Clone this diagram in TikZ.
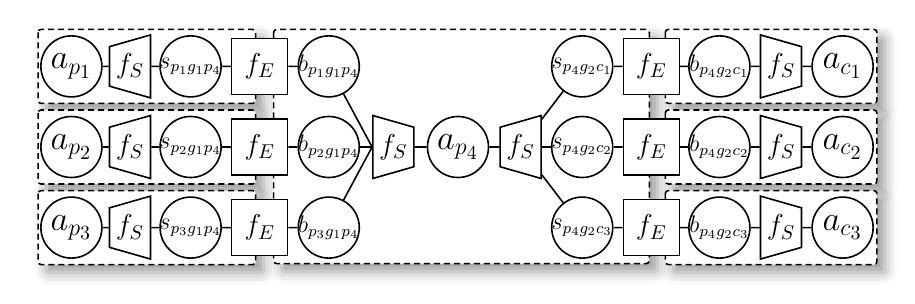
\documentclass[tikz,border=0pt]{standalone}
\usepackage{amsmath}
\usetikzlibrary{positioning, calc, shapes.geometric, shadows.blur, backgrounds}

\begin{document}
\begin{tikzpicture}[
    node distance=5.2pt,
    link/.style={thick},
    act/.style={draw, thick, circle, fill=white, minimum size=30.5pt, inner sep=0pt, font=\LARGE,
        execute at begin node={\hbox to 0pt\bgroup\hss}, execute at end node={\hss\egroup}},
    sig/.style={act, font=\large},
    fs/.style={draw, thick, fill=white, trapezium, trapezium left angle=75, trapezium right angle=75,
        trapezium stretches=true, minimum width=31.5pt, minimum height=20.5pt, inner sep=0pt, font=\Large},
    fsin/.style={fs, shape border rotate=90},
    fsout/.style={fs, shape border rotate=270},
    fe/.style={draw, thick, fill=white, minimum size=28pt, inner sep=0pt, font=\Large},
    group/.style={draw, thick, dash pattern=on 3pt off 2pt, fill=white, rounded corners=1.5pt,
        blur shadow={shadow xshift=4pt, shadow yshift=-4pt, shadow blur radius=6pt, shadow opacity=40}},
]
\useasboundingbox (-229pt,-78.5pt) rectangle (228.5pt,73.5pt);

% centre
\node[act] (ap4) at (0,0) {$a_{p_4}$};
\node[fsout, left=6pt of ap4] (fsp) {$f_S$};
\node[fsin, right=5pt of ap4] (fsc) {$f_S$};
\node[sig, left=6pt of fsp] (b2) {$b_{p_2g_1p_4}$};
\node[sig, above=9pt of b2] (b1) {$b_{p_1g_1p_4}$};
\node[sig, below=9pt of b2] (b3) {$b_{p_3g_1p_4}$};
\node[sig, right=4.5pt of fsc] (t2) {$s_{p_4g_2c_2}$};
\node[sig, above=9pt of t2] (t1) {$s_{p_4g_2c_1}$};
\node[sig, below=9pt of t2] (t3) {$s_{p_4g_2c_3}$};

% rows: parents on the left, children on the right
\foreach \i in {1,2,3} {
    \node[fe, left=4.5pt of b\i] (fe\i) {$f_E$};
    \node[sig, left=4.5pt of fe\i] (s\i) {$s_{p_\i g_1p_4}$};
    \node[fsin, left=4pt of s\i] (fs\i) {$f_S$};
    \node[act, left=3pt of fs\i] (a\i) {$a_{p_\i}$};
    \draw[link] (a\i) -- (fs\i) -- (s\i) -- (fe\i) -- (b\i);
    \draw[link] (b\i) -- (fsp.west);

    \node[fe, right=4.5pt of t\i] (ge\i) {$f_E$};
    \node[sig, right=4pt of ge\i] (d\i) {$b_{p_4g_2c_\i}$};
    \node[fsout, right=4.5pt of d\i] (gs\i) {$f_S$};
    \node[act, right=4.5pt of gs\i] (c\i) {$a_{c_\i}$};
    \draw[link] (t\i) -- (ge\i) -- (d\i) -- (gs\i) -- (c\i);
    \draw[link] (fsc) -- (t\i);
}
\draw[link] (fsp) -- (ap4) -- (fsc);

% dashed groups
\begin{scope}[on background layer]
    \foreach \i in {1,2,3} {
        \draw[group] ($(a\i.west)+(-1pt,18.5pt)$) rectangle ($(fe\i.center)+(-2pt,-18.5pt)$);
    }
    \draw[group] ($(fe1.center)+(7pt,18.5pt)$) rectangle ($(ge3.center)+(-1pt,-18pt)$);
    \foreach \i in {1,2,3} {
        \draw[group] ($(ge\i.center)+(7pt,18.5pt)$) rectangle ($(c\i.east)+(1.5pt,-18.5pt)$);
    }
\end{scope}
\end{tikzpicture}
\end{document}
